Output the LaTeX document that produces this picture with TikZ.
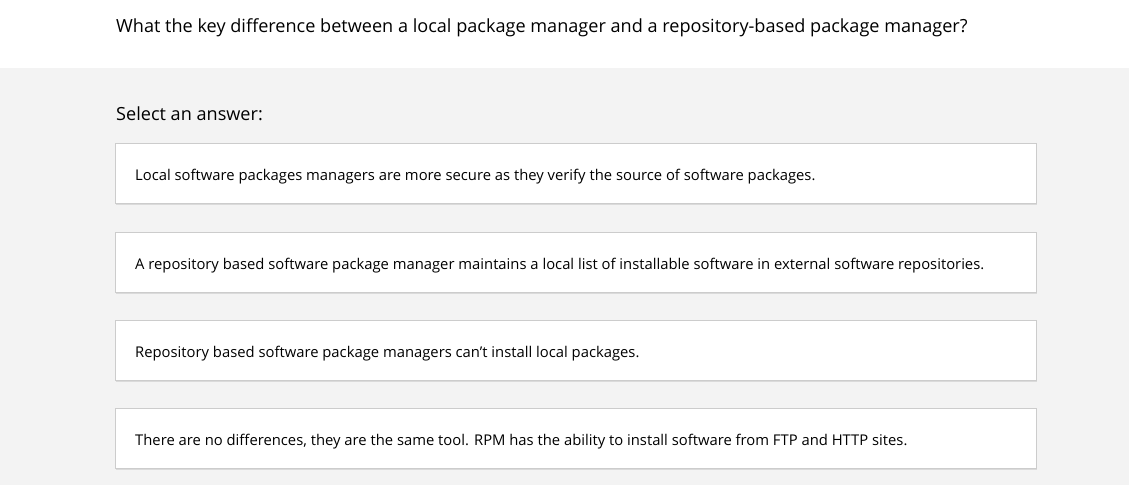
\documentclass[tikz,border=0pt]{standalone}
\usepackage{fontspec}
\setmainfont{Open Sans}
\definecolor{pagegray}{HTML}{F3F3F3}
\definecolor{boxline}{HTML}{CCCCCC}
\definecolor{shadowgray}{HTML}{DADADA}
\begin{document}
\begin{tikzpicture}[x=1pt,y=-1pt,
  answer/.style={rectangle,draw=boxline,fill=white,minimum width=921pt,minimum height=60pt,anchor=north west},
  answertext/.style={anchor=west,font=\fontsize{14.8}{17}\selectfont,inner sep=0pt}]
\useasboundingbox (0,0) rectangle (1129,485);
\fill[white] (0,0) rectangle (1129,68);
\fill[pagegray] (0,68) rectangle (1129,485);

\node[anchor=west,inner sep=0pt,font=\fontsize{18.1}{21}\selectfont] (question) at (116,28)
  {What the key difference between a local package manager and a repository-based package manager?};
\node[anchor=west,inner sep=0pt,font=\fontsize{18.1}{21}\selectfont] (select) at (116,114) {Select an answer:};

\foreach \y/\name/\txt in {143/a/{Local software packages managers are more secure as they verify the source of software packages.},
  232/b/{A repository based software package manager maintains a local list of installable software in external software repositories.},
  320/c/{Repository based software package managers can\char39t install local packages.},
  408/d/{There are no differences, they are the same tool. RPM has the ability to install software from FTP and HTTP sites.}}{
  \fill[shadowgray] (116,\y+2) rectangle (1037,\y+62);
  \node[answer] (\name) at (115,\y) {};
  \node[answertext] (\name text) at (135,\y+34) {\txt};
}
\end{tikzpicture}
\end{document}
